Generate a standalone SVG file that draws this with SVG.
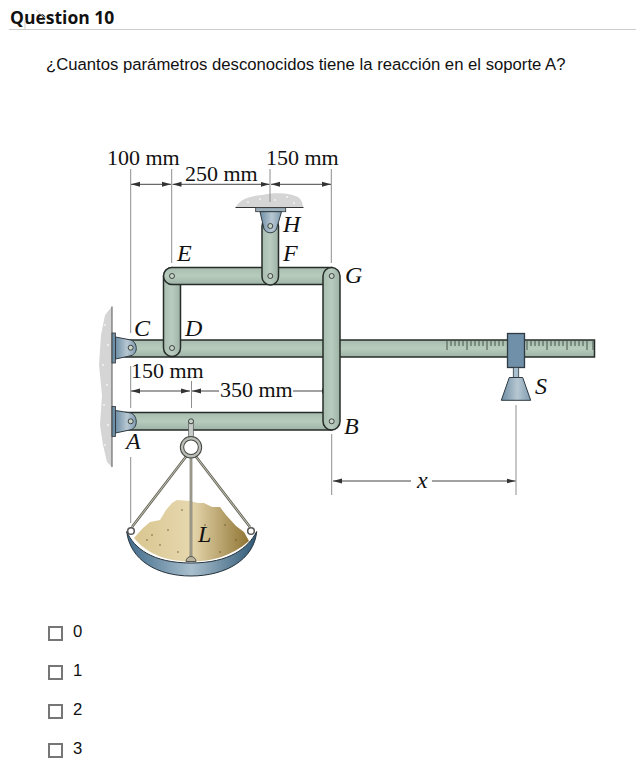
<svg xmlns="http://www.w3.org/2000/svg" width="636" height="765" viewBox="0 0 636 765">
<style>
.ui{font-family:"Liberation Sans",Arial,sans-serif;font-size:16.700px;fill:#111}
.dim{font-family:"Liberation Serif","Times New Roman",serif;font-size:22px;fill:#111}
.lbl{font-family:"Liberation Serif","Times New Roman",serif;font-size:24px;font-style:italic;fill:#111}
.ext{stroke:#8c8f8e;stroke-width:1;fill:none}
.dl{stroke:#444;stroke-width:1;fill:none;marker-start:url(#as);marker-end:url(#ae)}
.bar{fill:url(#barV);stroke:#262c29;stroke-width:1.500}
.barH{fill:url(#barH);stroke:#262c29;stroke-width:1.500}
.pin{fill:#c4d4c8;stroke:#333;stroke-width:.9}
.brk{fill:url(#steel);stroke:#2f3a42;stroke-width:1}
.box{fill:#fff;stroke:#767676;stroke-width:2}
.cable{stroke:#66665c;stroke-width:2.600;fill:none}
.cable2{stroke:#c9c7b4;stroke-width:1;fill:none}
</style>
<defs>
<linearGradient id="barV" x1="0" y1="0" x2="0" y2="1"><stop offset="0" stop-color="#a8bdaf"/><stop offset=".5" stop-color="#b8ccbe"/><stop offset="1" stop-color="#9db3a5"/></linearGradient>
<linearGradient id="barH" x1="0" y1="0" x2="1" y2="0"><stop offset="0" stop-color="#a8bdaf"/><stop offset=".5" stop-color="#b9ccbf"/><stop offset="1" stop-color="#9db3a5"/></linearGradient>
<linearGradient id="steel" x1="0" y1="0" x2="1" y2="0"><stop offset="0" stop-color="#6e8ea5"/><stop offset=".55" stop-color="#b7c7d2"/><stop offset="1" stop-color="#7f9cb0"/></linearGradient>
<linearGradient id="pan" x1="0" y1="0" x2="1" y2="0"><stop offset="0" stop-color="#3f6a8a"/><stop offset=".5" stop-color="#a9bfcd"/><stop offset="1" stop-color="#2f5876"/></linearGradient>
<linearGradient id="sand" x1="0" y1="0" x2="1" y2="0"><stop offset="0" stop-color="#d9c690"/><stop offset=".5" stop-color="#e6d7ae"/><stop offset="1" stop-color="#8f7433"/></linearGradient>
<marker id="ae" markerWidth="9" markerHeight="6" refX="9" refY="3" orient="auto" markerUnits="userSpaceOnUse"><path d="M0,0.5L9,3L0,5.500Z" fill="#333"/></marker>
<marker id="as" markerWidth="9" markerHeight="6" refX="0" refY="3" orient="auto" markerUnits="userSpaceOnUse"><path d="M9,0.5L0,3L9,5.500Z" fill="#333"/></marker>
</defs>
<rect width="636" height="765" fill="#fff"/>

<g id="header">
<text x="10" y="23.500" font-family="'Open Sans',sans-serif" font-weight="700" font-size="17.500" fill="#111">Question 10</text>
<path d="M36 10L45 18M25 20L25 29" stroke="#ccc" stroke-width="1" fill="none"/>
<rect x="9" y="29" width="627" height="1" fill="#ccc"/>
<text class="ui" x="46" y="70">¿Cuantos parámetros desconocidos tiene la reacción en el soporte A?</text>
</g>

<g id="wall">
<path d="M112 306.500L112 467L107 462L103 445L100 425L102 395L99 365L101 335L105 315Z" fill="#d4d5d4"/>
<g fill="#f2f2f2"><circle cx="105" cy="325" r="1"/><circle cx="108" cy="345" r="1"/><circle cx="103" cy="365" r="1"/><circle cx="107" cy="385" r="1"/><circle cx="104" cy="405" r="1"/><circle cx="108" cy="425" r="1"/><circle cx="105" cy="445" r="1"/></g>
<path d="M112 306.500V467" stroke="#555" stroke-width="1"/>
</g>
<g id="ceiling">
<path d="M235.500 207.500C240 199 250 196 262 195C275 192 290 193 298 197C302 200 303 204 303 207.500Z" fill="#d4d5d4"/>
<g fill="#f2f2f2"><circle cx="248" cy="202" r="1"/><circle cx="260" cy="199" r="1"/><circle cx="275" cy="200" r="1"/><circle cx="287" cy="197" r="1"/><circle cx="294" cy="203" r="1"/></g>
<path d="M235.500 207.500H303.500" stroke="#333" stroke-width="1"/>
</g>

<g id="connectors">
<path class="ext" d="M130.700 169V333M171.700 169V263M270 169V202M331.300 169V263M130.700 366V408M191.500 381V408M331.700 381V417M331.700 434V495M130.700 457V523M516 405V495"/>
<path class="dl" d="M131 184.300H171"/>
<path class="dl" d="M172.500 184.300H269.500"/>
<path class="dl" d="M271 184.300H331"/>
<path d="M131 391H190" class="dl"/>
<path d="M192 391H219" stroke="#444" fill="none" marker-start="url(#as)"/>
<path d="M293 391H331" stroke="#444" fill="none" marker-end="url(#ae)"/>
<path d="M333 481H411" stroke="#444" fill="none" marker-start="url(#as)"/>
<path d="M432 481H515.500" stroke="#444" fill="none" marker-end="url(#ae)"/>
</g>

<g id="bar-CS">
<rect class="bar" x="125" y="340" width="469.500" height="17"/>
<g stroke="#46524b" stroke-width="1">
<path d="M447 340v10M593 340v10M467 340v10M487 340v10M527 340v10M547 340v10M567 340v10M587 340v10"/>
<path d="M451 340v6M455 340v6M459 340v6M463 340v6M471 340v6M475 340v6M479 340v6M483 340v6M491 340v6M495 340v6M499 340v6M503 340v6M531 340v6M535 340v6M539 340v6M543 340v6M551 340v6M555 340v6M559 340v6M563 340v6M571 340v6M575 340v6M579 340v6M583 340v6"/>
</g>
</g>
<g id="bar-AB">
<rect class="bar" x="125" y="412.500" width="207" height="17.500"/>
</g>
<g id="link-ED">
<rect class="barH" x="163.500" y="267.500" width="17" height="89" rx="8.500"/>
<circle class="pin" cx="172" cy="348" r="2.500"/>
</g>
<g id="bar-EG">
<path class="bar" d="M172 267.500H332V284.500H172A8.500 8.500 0 0 1 172 267.500Z"/>
<circle class="pin" cx="172" cy="276" r="2.500"/>
</g>
<g id="link-GB">
<rect class="barH" x="323" y="267.500" width="17" height="162.500" rx="8.500"/>
<circle class="pin" cx="331.700" cy="276" r="2.500"/>
<circle class="pin" cx="331.700" cy="421.300" r="2.500"/>
</g>
<g id="link-HF">
<rect class="barH" x="262" y="218" width="16.500" height="67" rx="8.250"/>
<circle class="pin" cx="270.300" cy="276" r="2.500"/>
</g>
<g id="support-H">
<rect x="255.700" y="207.700" width="30" height="4" fill="#9db0bd" stroke="#333" stroke-width=".8"/>
<path class="brk" d="M260 211.700H281.500L276.500 229C274 234 266.500 234 264 229Z"/>
<circle class="pin" cx="270.300" cy="226" r="2.500"/>
</g>
<g id="support-C">
<rect x="112" y="333" width="3.500" height="30" fill="#6e8ea5" stroke="#333" stroke-width=".8"/>
<path class="brk" d="M115.500 337L131 340C137 342 139 353 131 355.700L115.500 359Z"/>
<circle class="pin" cx="130.700" cy="347.700" r="2.500"/>
</g>
<g id="support-A">
<rect x="112" y="406.500" width="3.500" height="30" fill="#6e8ea5" stroke="#333" stroke-width=".8"/>
<path class="brk" d="M115.500 410.500L131 413C137 415 139 427 131 429.700L115.500 433Z"/>
<circle class="pin" cx="130.700" cy="421.300" r="2.500"/>
</g>

<g id="slider-S">
<rect x="507.500" y="333.500" width="17" height="34" fill="#6f90a8" stroke="#2f3a42" stroke-width="1.300"/>
<rect x="513.300" y="367.500" width="5.400" height="10" fill="#a9bfcd" stroke="#2f3a42" stroke-width=".8"/>
<path d="M509.300 377.500H522.700L530.700 400.300H501.300Z" fill="url(#steel)" stroke="#2f3a42" stroke-width="1"/>
</g>

<g id="load-L">
<rect x="188.700" y="421" width="4.600" height="17" fill="#c9cdc9" stroke="#555" stroke-width=".7"/>
<circle cx="191" cy="421.300" r="2.500" class="pin"/>
<path d="M134 538L143 528L150 522L160 520L166 510L172 503L177 500L190 501L198 503L204 503L212 507L220 507L226 515L236 526L244 532L249 541C232 556 212 561.500 191 561.500C168 561.500 148 555 134 538Z" fill="url(#sand)"/>
<g fill="#5a4a22"><circle cx="152" cy="535" r=".7"/><circle cx="168" cy="530" r=".7"/><circle cx="182" cy="510" r=".7"/><circle cx="205" cy="525" r=".7"/><circle cx="225" cy="525" r=".7"/><circle cx="160" cy="545" r=".7"/><circle cx="178" cy="552" r=".7"/><circle cx="220" cy="552" r=".7"/><circle cx="147" cy="540" r=".7"/><circle cx="236" cy="540" r=".7"/></g>
<path d="M126.700 531.500C134 548 152 563 191 563C230 563 248 548 256.700 531.500C254 560 225 576 191 576C157 576 130 560 126.700 531.500Z" fill="url(#pan)" stroke="#26333c" stroke-width="1"/>
<path class="cable" d="M188 454L132 527M194 454L250 527M191 455V557"/>
<path class="cable2" d="M188 454L132 527M194 454L250 527M191 455V557"/>
<circle cx="191" cy="447.300" r="9" fill="none" stroke="#444843" stroke-width="4.400"/>
<circle cx="191" cy="447.300" r="9" fill="none" stroke="#b9bdb5" stroke-width="2.400"/>
<circle cx="131" cy="531" r="3.300" fill="none" stroke="#555" stroke-width="1.500"/>
<circle cx="251" cy="531" r="3.300" fill="none" stroke="#555" stroke-width="1.500"/>
<path d="M186 561.500A5 5 0 0 1 196 561.500Z" fill="#b9b49a" stroke="#555" stroke-width="1"/>
</g>

<g id="labels">
<text class="dim" x="107" y="165">100 mm</text>
<text class="dim" x="185" y="180.700">250 mm</text>
<text class="dim" x="266" y="165">150 mm</text>
<text class="dim" x="131" y="378">150 mm</text>
<text class="dim" x="220" y="397">350 mm</text>
<text class="lbl" x="177" y="260.500">E</text>
<text class="lbl" x="283" y="260.500">F</text>
<text class="lbl" x="283" y="231.500">H</text>
<text class="lbl" x="345" y="283">G</text>
<text class="lbl" x="134" y="336">C</text>
<text class="lbl" x="185" y="336">D</text>
<text class="lbl" x="126" y="449">A</text>
<text class="lbl" x="344" y="434">B</text>
<text class="lbl" x="198" y="542">L</text>
<text class="lbl" x="535" y="394">S</text>
<text class="lbl" x="417" y="488">x</text>
</g>

<g id="options">
<rect class="box" x="49" y="627" width="13" height="13"/><text class="ui" x="73" y="636.500">0</text>
<rect class="box" x="49" y="666" width="13" height="13"/><text class="ui" x="73" y="675.500">1</text>
<rect class="box" x="49" y="705" width="13" height="13"/><text class="ui" x="73" y="714.500">2</text>
<rect class="box" x="49" y="744" width="13" height="13"/><text class="ui" x="73" y="753.500">3</text>
</g>
</svg>
